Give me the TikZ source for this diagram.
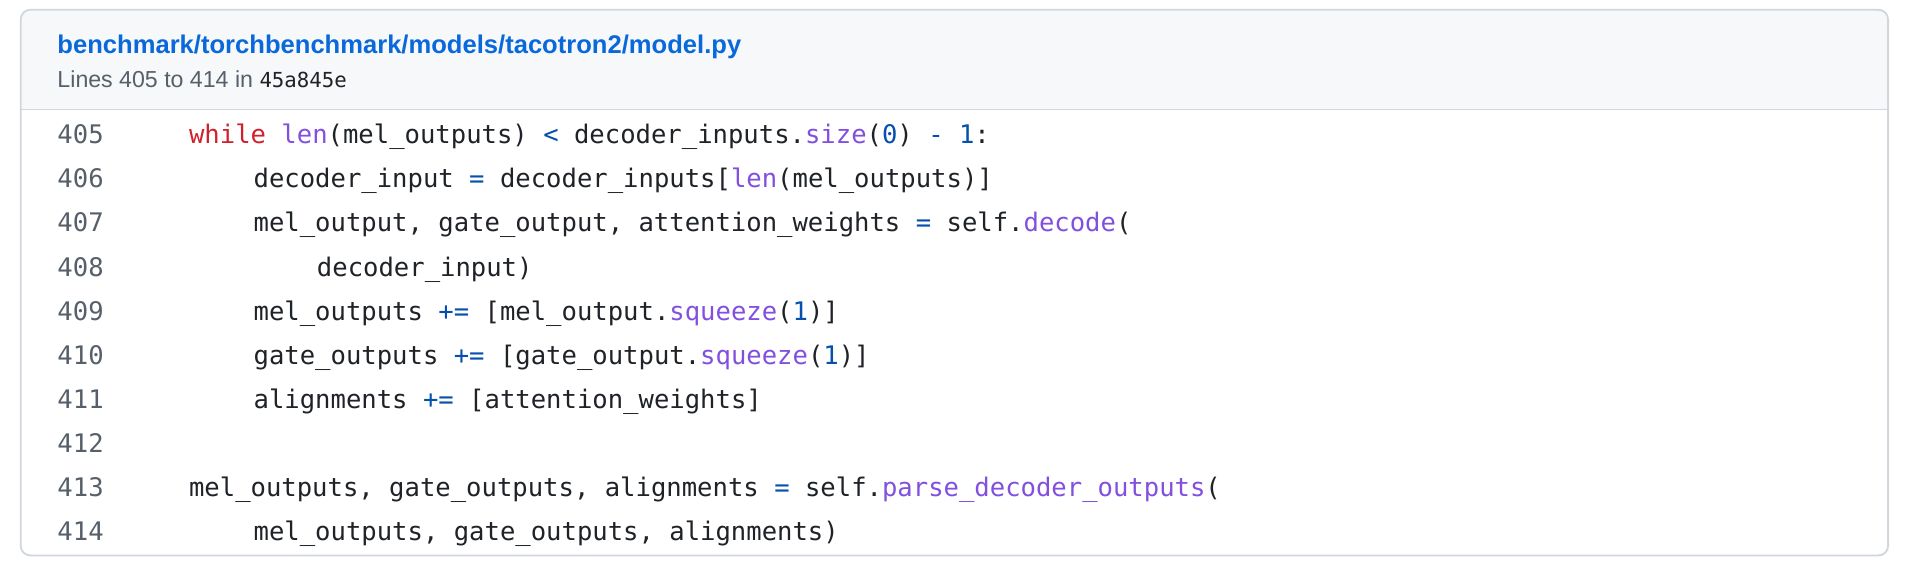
\documentclass[tikz,border=0pt]{standalone}
\usepackage{fontspec}
\setmainfont{Liberation Sans}
\newfontfamily\codefont{DejaVu Sans Mono}
\definecolor{kwred}{HTML}{CF222E}
\definecolor{fnpur}{HTML}{8250DF}
\definecolor{opblue}{HTML}{0550AE}
\definecolor{lnk}{HTML}{0969DA}
\definecolor{mut}{HTML}{57606A}
\definecolor{bord}{HTML}{D0D7DE}
\definecolor{hdr}{HTML}{F6F8FA}
\definecolor{txt}{HTML}{1F2328}
\newcommand\kw[1]{\textcolor{kwred}{#1}}
\newcommand\fn[1]{\textcolor{fnpur}{#1}}
\newcommand\op[1]{\textcolor{opblue}{#1}}
\begin{document}
\begin{tikzpicture}[x=1pt,y=-1pt,
  code/.style={anchor=base west,inner sep=0pt,font=\codefont\fontsize{21}{25}\selectfont,text=txt},
  lnum/.style={anchor=base west,inner sep=0pt,font=\codefont\fontsize{21}{25}\selectfont,text=mut}]
\useasboundingbox (0,0) rectangle (1568,470);
\fill[white] (0,0) rectangle (1568,470);
\begin{scope}
\clip[rounded corners=8] (17,8) rectangle (1550,456);
\fill[hdr] (17,8) rectangle (1550,90);
\end{scope}
\draw[bord,line width=1.2] (17,90) -- (1550,90);
\draw[bord,line width=1.5,rounded corners=8] (17,8) rectangle (1550,456);
\node[anchor=base west,inner sep=0pt,font=\fontsize{21}{25}\selectfont\bfseries,text=lnk] (title) at (47,44) {benchmark/torchbenchmark/models/tacotron2/model.py};
\node[anchor=base west,inner sep=0pt,font=\fontsize{19}{23}\selectfont,text=mut] (sub) at (47,72) {Lines 405 to 414 in \textcolor{txt}{\codefont\fontsize{17}{20}\selectfont 45a845e}};
\foreach \n [count=\i from 0] in {405,...,414}{
  \node[lnum] (n\n) at (47,{118+36.2*\i}) {\n};
}
\node[code] (l405) at (155,118) {\kw{while} \fn{len}(mel\_outputs) \op{<} decoder\_inputs.\fn{size}(\op{0}) \op{-} \op{1}:};
\node[code] (l406) at (208,154.2) {decoder\_input \op{=} decoder\_inputs[\fn{len}(mel\_outputs)]};
\node[code] (l407) at (208,190.4) {mel\_output, gate\_output, attention\_weights \op{=} self.\fn{decode}(};
\node[code] (l408) at (260,226.6) {decoder\_input)};
\node[code] (l409) at (208,262.8) {mel\_outputs \op{+=} [mel\_output.\fn{squeeze}(\op{1})]};
\node[code] (l410) at (208,299) {gate\_outputs \op{+=} [gate\_output.\fn{squeeze}(\op{1})]};
\node[code] (l411) at (208,335.2) {alignments \op{+=} [attention\_weights]};
\node[code] (l413) at (155,407.6) {mel\_outputs, gate\_outputs, alignments \op{=} self.\fn{parse\_decoder\_outputs}(};
\node[code] (l414) at (208,443.8) {mel\_outputs, gate\_outputs, alignments)};
\end{tikzpicture}
\end{document}
